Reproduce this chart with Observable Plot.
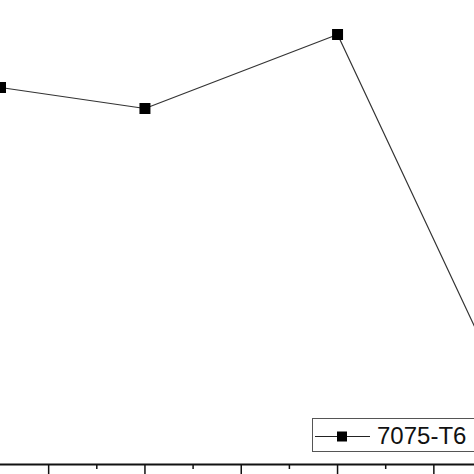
<!DOCTYPE html>
<html>
<head>
<meta charset="utf-8">
<script src="https://cdn.jsdelivr.net/npm/d3@7"></script>
<script src="https://cdn.jsdelivr.net/npm/@observablehq/plot@0.6"></script>
<style>
  html, body { margin: 0; padding: 0; background: #fff; }
  #wrap { position: relative; width: 474px; height: 474px; overflow: hidden; }
  #legend { position: absolute; left: 312px; top: 418px; width: 200px; height: 34px;
    border: 1px solid #555; background: #fff; box-sizing: border-box;
    font-family: "Liberation Sans", Arial, sans-serif; font-size: 24px; color: #111; }
  #legend svg { position: absolute; left: 1px; top: 0; }
  #legend span { position: absolute; left: 64px; top: 3px; line-height: 27px; }
</style>
</head>
<body>
<div id="wrap">
  <div id="chart"></div>
  <div id="legend">
    <svg width="60" height="33"><line x1="1" y1="17.5" x2="56" y2="17.5" stroke="#222" stroke-width="1.2"/><rect x="23" y="12.5" width="10" height="10" fill="#000"/></svg>
    <span>7075-T6</span>
  </div>
</div>
<script>
const series = "7075-T6";
const xValues = [0, 3, 7, 10];
const yValues = [377, 356, 430, 122];
const majorTicks = [1, 3, 5, 7, 9];
const minorTicks = [2, 4, 6, 8];

const data = xValues.map((x, i) => ({x, y: yValues[i], series}));

const chart = Plot.plot({
  width: 474,
  height: 474,
  marginTop: 0,
  marginLeft: 0,
  marginRight: 0,
  marginBottom: 10,
  style: {background: "#fff", overflow: "hidden"},
  x: {domain: [0, 474 / 48.15], axis: null, label: null},
  y: {domain: [0, 464], axis: null, label: null},
  marks: [
    Plot.axisX({ticks: majorTicks, tickSize: 10, tickFormat: () => "", label: null, stroke: "#111", strokeWidth: 1.5}),
    Plot.axisX({ticks: minorTicks, tickSize: 5, tickFormat: () => "", label: null, stroke: "#111", strokeWidth: 1.5}),
    Plot.frame({anchor: "bottom", stroke: "#111", strokeWidth: 2.2}),
    Plot.line(data, {x: "x", y: "y", stroke: "#333", strokeWidth: 1.2}),
    Plot.dot(data, {x: "x", y: "y", symbol: "square", r: 6.2, fill: "#000", stroke: "none"})
  ]
});
document.getElementById("chart").appendChild(chart);
</script>
</body>
</html>
